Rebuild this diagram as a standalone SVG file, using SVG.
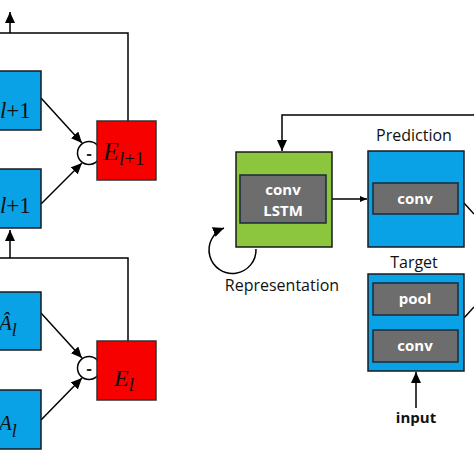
<svg xmlns="http://www.w3.org/2000/svg" width="474" height="474" viewBox="0 0 474 474">
<defs>
<marker id="ah" markerUnits="userSpaceOnUse" markerWidth="12" markerHeight="10" refX="11" refY="5" orient="auto"><path d="M0,0 L11,5 L0,10 z" fill="#000"/></marker>
<marker id="ahs" markerUnits="userSpaceOnUse" markerWidth="8" markerHeight="6" refX="7" refY="3" orient="auto"><path d="M0,0 L7,3 L0,6 z" fill="#000"/></marker>
<style>
.blue{fill:#0aa2e6;stroke:#1a1a1a;stroke-width:1.5}
.red{fill:#f60000;stroke:#333;stroke-width:1.5}
.green{fill:#8cc63f;stroke:#1a1a1a;stroke-width:1.5}
.gray{fill:#6d6d6d;stroke:#1a2a3a;stroke-width:1.5}
.circ{fill:#fff;stroke:#000;stroke-width:1.5}
.ln{fill:none;stroke:#000;stroke-width:1.5}
.math{font-family:"Liberation Serif","DejaVu Serif",serif;font-style:italic;fill:#111}
.up{font-style:normal}
.in{font-family:"Open Sans","Noto Sans",sans-serif;font-weight:bold;fill:#fff;font-size:15px;text-anchor:middle}
.lbl{font-family:"Open Sans","Noto Sans",sans-serif;fill:#111;text-anchor:middle}
.minus{font-family:"Liberation Sans",sans-serif;font-size:17px;font-weight:bold;fill:#222;text-anchor:middle}
</style>
</defs>

<g id="connectors">
<polyline class="ln" points="128,121 128,33 0,33"/>
<line class="ln" x1="10" y1="33" x2="10" y2="12" marker-end="url(#ah)"/>
<line class="ln" x1="41" y1="98" x2="82" y2="143" marker-end="url(#ah)"/>
<line class="ln" x1="41" y1="204" x2="82" y2="163" marker-end="url(#ah)"/>
<polyline class="ln" points="128,341 128,258 0,258"/>
<line class="ln" x1="10" y1="258" x2="10" y2="230" marker-end="url(#ah)"/>
<line class="ln" x1="41" y1="313" x2="82" y2="358" marker-end="url(#ah)"/>
<line class="ln" x1="41" y1="420" x2="82" y2="378" marker-end="url(#ah)"/>
<polyline class="ln" points="474,115 282,115 282,151" marker-end="url(#ah)"/>
<line class="ln" x1="332" y1="199" x2="367" y2="199" marker-end="url(#ahs)"/>
<path class="ln" d="M256,249 A23.5,23.5 0 1 1 224,228" marker-end="url(#ah)"/>
<line class="ln" x1="464" y1="203" x2="474" y2="214"/>
<line class="ln" x1="464" y1="318" x2="474" y2="307"/>
<line class="ln" x1="416" y1="408" x2="416" y2="372" marker-end="url(#ah)"/>
</g>

<g id="Ahat_l1">
<rect class="blue" x="-5" y="71" width="46" height="59"/>
<text class="math" x="-16" y="108" font-size="26">Â<tspan font-size="23" dy="10">l</tspan><tspan class="up" font-size="23">+1</tspan></text>
</g>
<g id="A_l1">
<rect class="blue" x="-5" y="169" width="46" height="59"/>
<text class="math" x="-16" y="204" font-size="26">A<tspan font-size="23" dy="9">l</tspan><tspan class="up" font-size="23">+1</tspan></text>
</g>
<g id="minus_l1">
<circle class="circ" cx="89" cy="153" r="11.5"/>
<text class="minus" x="89" y="159">-</text>
</g>
<g id="E_l1">
<rect class="red" x="97" y="121" width="59" height="59"/>
<text class="math" x="103" y="160" font-size="26">E<tspan font-size="19" dy="5">l</tspan><tspan class="up" font-size="19">+1</tspan></text>
</g>

<g id="Ahat_l">
<rect class="blue" x="-5" y="292" width="46" height="58"/>
<text class="math" x="-1" y="330" font-size="21">Â<tspan font-size="18" dy="6">l</tspan></text>
</g>
<g id="A_l">
<rect class="blue" x="-5" y="390" width="46" height="59"/>
<text class="math" x="-1" y="430" font-size="21">A<tspan font-size="18" dy="7">l</tspan></text>
</g>
<g id="minus_l">
<circle class="circ" cx="89" cy="368" r="11.5"/>
<text class="minus" x="89" y="374">-</text>
</g>
<g id="E_l">
<rect class="red" x="97" y="341" width="59" height="59"/>
<text class="math" x="114" y="386" font-size="24">E<tspan font-size="19" dy="5">l</tspan></text>
</g>

<g id="representation">
<rect class="green" x="236" y="152" width="96" height="95"/>
<rect class="gray" x="240" y="175" width="86" height="48"/>
<text class="in" x="283" y="195">conv</text>
<text class="in" x="283" y="216">LSTM</text>
<text class="lbl" x="282" y="291" font-size="16">Representation</text>
</g>

<g id="prediction">
<text class="lbl" x="414" y="141" font-size="16">Prediction</text>
<rect class="blue" x="368" y="151" width="96" height="96"/>
<rect class="gray" x="373" y="183" width="85" height="31"/>
<text class="in" x="415" y="204">conv</text>
</g>

<g id="target">
<text class="lbl" x="414" y="268" font-size="16">Target</text>
<rect class="blue" x="368" y="274" width="96" height="97"/>
<rect class="gray" x="373" y="283" width="85" height="32"/>
<text class="in" x="415" y="304">pool</text>
<rect class="gray" x="373" y="330" width="85" height="32"/>
<text class="in" x="415" y="351">conv</text>
</g>

<g id="input">
<text class="lbl" x="416" y="423" font-size="15" font-weight="bold">input</text>
</g>
</svg>
